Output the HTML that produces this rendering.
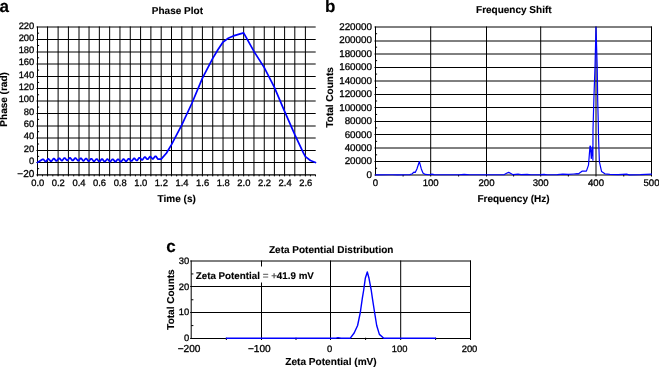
<!DOCTYPE html>
<html><head><meta charset="utf-8"><title>Figure</title>
<style>
html,body{margin:0;padding:0;background:#fff;}
body{width:659px;height:367px;overflow:hidden;}
svg{display:block;}
svg text{font-family:"Liberation Sans",sans-serif;fill:#000;stroke:#000;stroke-width:0.3px;text-rendering:geometricPrecision;}
svg text.b{font-weight:bold;stroke-width:0.12px;}
</style></head><body>
<svg width="659" height="367" viewBox="0 0 659 367">
<rect width="659" height="367" fill="#fff"/>
<g id="chartA">
<line x1="36.50" y1="27.00" x2="315.70" y2="27.00" stroke="#000" stroke-width="1.0"/>
<line x1="36.50" y1="39.50" x2="315.70" y2="39.50" stroke="#000" stroke-width="1.0"/>
<line x1="36.50" y1="52.00" x2="315.70" y2="52.00" stroke="#000" stroke-width="1.0"/>
<line x1="36.50" y1="64.00" x2="315.70" y2="64.00" stroke="#000" stroke-width="1.0"/>
<line x1="36.50" y1="76.50" x2="315.70" y2="76.50" stroke="#000" stroke-width="1.0"/>
<line x1="36.50" y1="88.50" x2="315.70" y2="88.50" stroke="#000" stroke-width="1.0"/>
<line x1="36.50" y1="101.00" x2="315.70" y2="101.00" stroke="#000" stroke-width="1.0"/>
<line x1="36.50" y1="113.50" x2="315.70" y2="113.50" stroke="#000" stroke-width="1.0"/>
<line x1="36.50" y1="126.00" x2="315.70" y2="126.00" stroke="#000" stroke-width="1.0"/>
<line x1="36.50" y1="138.00" x2="315.70" y2="138.00" stroke="#000" stroke-width="1.0"/>
<line x1="36.50" y1="150.50" x2="315.70" y2="150.50" stroke="#000" stroke-width="1.0"/>
<line x1="36.50" y1="162.50" x2="315.70" y2="162.50" stroke="#000" stroke-width="1.0"/>
<line x1="36.50" y1="174.85" x2="315.70" y2="174.85" stroke="#000" stroke-width="1.35"/>
<line x1="37.50" y1="26.50" x2="37.50" y2="175.35" stroke="#000" stroke-width="1.0"/>
<line x1="47.55" y1="26.50" x2="47.55" y2="175.35" stroke="#000" stroke-width="1.0"/>
<line x1="58.12" y1="26.50" x2="58.12" y2="175.35" stroke="#000" stroke-width="1.0"/>
<line x1="68.42" y1="26.50" x2="68.42" y2="175.35" stroke="#000" stroke-width="1.0"/>
<line x1="79.00" y1="26.50" x2="79.00" y2="175.35" stroke="#000" stroke-width="1.0"/>
<line x1="89.04" y1="26.50" x2="89.04" y2="175.35" stroke="#000" stroke-width="1.0"/>
<line x1="99.35" y1="26.50" x2="99.35" y2="175.35" stroke="#000" stroke-width="1.0"/>
<line x1="109.65" y1="26.50" x2="109.65" y2="175.35" stroke="#000" stroke-width="1.0"/>
<line x1="119.96" y1="26.50" x2="119.96" y2="175.35" stroke="#000" stroke-width="1.0"/>
<line x1="130.27" y1="26.50" x2="130.27" y2="175.35" stroke="#000" stroke-width="1.0"/>
<line x1="140.58" y1="26.50" x2="140.58" y2="175.35" stroke="#000" stroke-width="1.0"/>
<line x1="150.88" y1="26.50" x2="150.88" y2="175.35" stroke="#000" stroke-width="1.0"/>
<line x1="161.19" y1="26.50" x2="161.19" y2="175.35" stroke="#000" stroke-width="1.0"/>
<line x1="171.50" y1="26.50" x2="171.50" y2="175.35" stroke="#000" stroke-width="1.0"/>
<line x1="181.81" y1="26.50" x2="181.81" y2="175.35" stroke="#000" stroke-width="1.0"/>
<line x1="192.12" y1="26.50" x2="192.12" y2="175.35" stroke="#000" stroke-width="1.0"/>
<line x1="202.42" y1="26.50" x2="202.42" y2="175.35" stroke="#000" stroke-width="1.0"/>
<line x1="212.73" y1="26.50" x2="212.73" y2="175.35" stroke="#000" stroke-width="1.0"/>
<line x1="223.04" y1="26.50" x2="223.04" y2="175.35" stroke="#000" stroke-width="1.0"/>
<line x1="233.35" y1="26.50" x2="233.35" y2="175.35" stroke="#000" stroke-width="1.0"/>
<line x1="243.65" y1="26.50" x2="243.65" y2="175.35" stroke="#000" stroke-width="1.0"/>
<line x1="253.96" y1="26.50" x2="253.96" y2="175.35" stroke="#000" stroke-width="1.0"/>
<line x1="264.27" y1="26.50" x2="264.27" y2="175.35" stroke="#000" stroke-width="1.0"/>
<line x1="274.40" y1="26.50" x2="274.40" y2="175.35" stroke="#000" stroke-width="1.0"/>
<line x1="284.60" y1="26.50" x2="284.60" y2="175.35" stroke="#000" stroke-width="1.0"/>
<line x1="294.80" y1="26.50" x2="294.80" y2="175.35" stroke="#000" stroke-width="1.0"/>
<line x1="305.40" y1="26.50" x2="305.40" y2="175.35" stroke="#000" stroke-width="1.0"/>
<line x1="37.50" y1="174.85" x2="37.50" y2="176.35" stroke="#000" stroke-width="1.0"/>
<line x1="42.52" y1="174.85" x2="42.52" y2="176.35" stroke="#000" stroke-width="1.0"/>
<line x1="47.55" y1="174.85" x2="47.55" y2="176.35" stroke="#000" stroke-width="1.0"/>
<line x1="52.83" y1="174.85" x2="52.83" y2="176.35" stroke="#000" stroke-width="1.0"/>
<line x1="58.12" y1="174.85" x2="58.12" y2="176.35" stroke="#000" stroke-width="1.0"/>
<line x1="63.27" y1="174.85" x2="63.27" y2="176.35" stroke="#000" stroke-width="1.0"/>
<line x1="68.42" y1="174.85" x2="68.42" y2="176.35" stroke="#000" stroke-width="1.0"/>
<line x1="73.71" y1="174.85" x2="73.71" y2="176.35" stroke="#000" stroke-width="1.0"/>
<line x1="79.00" y1="174.85" x2="79.00" y2="176.35" stroke="#000" stroke-width="1.0"/>
<line x1="84.02" y1="174.85" x2="84.02" y2="176.35" stroke="#000" stroke-width="1.0"/>
<line x1="89.04" y1="174.85" x2="89.04" y2="176.35" stroke="#000" stroke-width="1.0"/>
<line x1="94.19" y1="174.85" x2="94.19" y2="176.35" stroke="#000" stroke-width="1.0"/>
<line x1="99.35" y1="174.85" x2="99.35" y2="176.35" stroke="#000" stroke-width="1.0"/>
<line x1="104.50" y1="174.85" x2="104.50" y2="176.35" stroke="#000" stroke-width="1.0"/>
<line x1="109.65" y1="174.85" x2="109.65" y2="176.35" stroke="#000" stroke-width="1.0"/>
<line x1="114.81" y1="174.85" x2="114.81" y2="176.35" stroke="#000" stroke-width="1.0"/>
<line x1="119.96" y1="174.85" x2="119.96" y2="176.35" stroke="#000" stroke-width="1.0"/>
<line x1="125.12" y1="174.85" x2="125.12" y2="176.35" stroke="#000" stroke-width="1.0"/>
<line x1="130.27" y1="174.85" x2="130.27" y2="176.35" stroke="#000" stroke-width="1.0"/>
<line x1="135.42" y1="174.85" x2="135.42" y2="176.35" stroke="#000" stroke-width="1.0"/>
<line x1="140.58" y1="174.85" x2="140.58" y2="176.35" stroke="#000" stroke-width="1.0"/>
<line x1="145.73" y1="174.85" x2="145.73" y2="176.35" stroke="#000" stroke-width="1.0"/>
<line x1="150.88" y1="174.85" x2="150.88" y2="176.35" stroke="#000" stroke-width="1.0"/>
<line x1="156.04" y1="174.85" x2="156.04" y2="176.35" stroke="#000" stroke-width="1.0"/>
<line x1="161.19" y1="174.85" x2="161.19" y2="176.35" stroke="#000" stroke-width="1.0"/>
<line x1="166.35" y1="174.85" x2="166.35" y2="176.35" stroke="#000" stroke-width="1.0"/>
<line x1="171.50" y1="174.85" x2="171.50" y2="176.35" stroke="#000" stroke-width="1.0"/>
<line x1="176.65" y1="174.85" x2="176.65" y2="176.35" stroke="#000" stroke-width="1.0"/>
<line x1="181.81" y1="174.85" x2="181.81" y2="176.35" stroke="#000" stroke-width="1.0"/>
<line x1="186.96" y1="174.85" x2="186.96" y2="176.35" stroke="#000" stroke-width="1.0"/>
<line x1="192.12" y1="174.85" x2="192.12" y2="176.35" stroke="#000" stroke-width="1.0"/>
<line x1="197.27" y1="174.85" x2="197.27" y2="176.35" stroke="#000" stroke-width="1.0"/>
<line x1="202.42" y1="174.85" x2="202.42" y2="176.35" stroke="#000" stroke-width="1.0"/>
<line x1="207.58" y1="174.85" x2="207.58" y2="176.35" stroke="#000" stroke-width="1.0"/>
<line x1="212.73" y1="174.85" x2="212.73" y2="176.35" stroke="#000" stroke-width="1.0"/>
<line x1="217.88" y1="174.85" x2="217.88" y2="176.35" stroke="#000" stroke-width="1.0"/>
<line x1="223.04" y1="174.85" x2="223.04" y2="176.35" stroke="#000" stroke-width="1.0"/>
<line x1="228.19" y1="174.85" x2="228.19" y2="176.35" stroke="#000" stroke-width="1.0"/>
<line x1="233.35" y1="174.85" x2="233.35" y2="176.35" stroke="#000" stroke-width="1.0"/>
<line x1="238.50" y1="174.85" x2="238.50" y2="176.35" stroke="#000" stroke-width="1.0"/>
<line x1="243.65" y1="174.85" x2="243.65" y2="176.35" stroke="#000" stroke-width="1.0"/>
<line x1="248.81" y1="174.85" x2="248.81" y2="176.35" stroke="#000" stroke-width="1.0"/>
<line x1="253.96" y1="174.85" x2="253.96" y2="176.35" stroke="#000" stroke-width="1.0"/>
<line x1="259.12" y1="174.85" x2="259.12" y2="176.35" stroke="#000" stroke-width="1.0"/>
<line x1="264.27" y1="174.85" x2="264.27" y2="176.35" stroke="#000" stroke-width="1.0"/>
<line x1="269.33" y1="174.85" x2="269.33" y2="176.35" stroke="#000" stroke-width="1.0"/>
<line x1="274.40" y1="174.85" x2="274.40" y2="176.35" stroke="#000" stroke-width="1.0"/>
<line x1="279.50" y1="174.85" x2="279.50" y2="176.35" stroke="#000" stroke-width="1.0"/>
<line x1="284.60" y1="174.85" x2="284.60" y2="176.35" stroke="#000" stroke-width="1.0"/>
<line x1="289.70" y1="174.85" x2="289.70" y2="176.35" stroke="#000" stroke-width="1.0"/>
<line x1="294.80" y1="174.85" x2="294.80" y2="176.35" stroke="#000" stroke-width="1.0"/>
<line x1="300.10" y1="174.85" x2="300.10" y2="176.35" stroke="#000" stroke-width="1.0"/>
<line x1="305.40" y1="174.85" x2="305.40" y2="176.35" stroke="#000" stroke-width="1.0"/>
<line x1="310.45" y1="174.85" x2="310.45" y2="176.35" stroke="#000" stroke-width="1.0"/>
<line x1="315.50" y1="174.85" x2="315.50" y2="176.35" stroke="#000" stroke-width="1.0"/>
<line x1="37.50" y1="168.66" x2="39.10" y2="168.66" stroke="#000" stroke-width="1.0"/>
<line x1="37.50" y1="156.34" x2="39.10" y2="156.34" stroke="#000" stroke-width="1.0"/>
<line x1="37.50" y1="144.02" x2="39.10" y2="144.02" stroke="#000" stroke-width="1.0"/>
<line x1="37.50" y1="131.70" x2="39.10" y2="131.70" stroke="#000" stroke-width="1.0"/>
<line x1="37.50" y1="119.39" x2="39.10" y2="119.39" stroke="#000" stroke-width="1.0"/>
<line x1="37.50" y1="107.07" x2="39.10" y2="107.07" stroke="#000" stroke-width="1.0"/>
<line x1="37.50" y1="94.75" x2="39.10" y2="94.75" stroke="#000" stroke-width="1.0"/>
<line x1="37.50" y1="82.43" x2="39.10" y2="82.43" stroke="#000" stroke-width="1.0"/>
<line x1="37.50" y1="70.11" x2="39.10" y2="70.11" stroke="#000" stroke-width="1.0"/>
<line x1="37.50" y1="57.80" x2="39.10" y2="57.80" stroke="#000" stroke-width="1.0"/>
<line x1="37.50" y1="45.48" x2="39.10" y2="45.48" stroke="#000" stroke-width="1.0"/>
<line x1="37.50" y1="33.16" x2="39.10" y2="33.16" stroke="#000" stroke-width="1.0"/>
<text transform="translate(34.30 28.50)" text-anchor="end" font-size="9.4">220</text>
<text transform="translate(34.30 40.81)" text-anchor="end" font-size="9.4">200</text>
<text transform="translate(34.30 53.12)" text-anchor="end" font-size="9.4">180</text>
<text transform="translate(34.30 65.43)" text-anchor="end" font-size="9.4">160</text>
<text transform="translate(34.30 77.74)" text-anchor="end" font-size="9.4">140</text>
<text transform="translate(34.30 90.05)" text-anchor="end" font-size="9.4">120</text>
<text transform="translate(34.30 102.36)" text-anchor="end" font-size="9.4">100</text>
<text transform="translate(34.30 114.67)" text-anchor="end" font-size="9.4">80</text>
<text transform="translate(34.30 126.98)" text-anchor="end" font-size="9.4">60</text>
<text transform="translate(34.30 139.29)" text-anchor="end" font-size="9.4">40</text>
<text transform="translate(34.30 151.60)" text-anchor="end" font-size="9.4">20</text>
<text transform="translate(34.30 163.91)" text-anchor="end" font-size="9.4">0</text>
<text transform="translate(34.30 176.62)" text-anchor="end" font-size="10.0">−20</text>
<text transform="translate(37.70 185.70)" text-anchor="middle" font-size="9.4">0.0</text>
<text transform="translate(58.32 185.70)" text-anchor="middle" font-size="9.4">0.2</text>
<text transform="translate(78.93 185.70)" text-anchor="middle" font-size="9.4">0.4</text>
<text transform="translate(99.55 185.70)" text-anchor="middle" font-size="9.4">0.6</text>
<text transform="translate(120.16 185.70)" text-anchor="middle" font-size="9.4">0.8</text>
<text transform="translate(140.78 185.70)" text-anchor="middle" font-size="9.4">1.0</text>
<text transform="translate(161.39 185.70)" text-anchor="middle" font-size="9.4">1.2</text>
<text transform="translate(182.01 185.70)" text-anchor="middle" font-size="9.4">1.4</text>
<text transform="translate(202.62 185.70)" text-anchor="middle" font-size="9.4">1.6</text>
<text transform="translate(223.24 185.70)" text-anchor="middle" font-size="9.4">1.8</text>
<text transform="translate(243.85 185.70)" text-anchor="middle" font-size="9.4">2.0</text>
<text transform="translate(264.47 185.70)" text-anchor="middle" font-size="9.4">2.2</text>
<text transform="translate(285.08 185.70)" text-anchor="middle" font-size="9.4">2.4</text>
<text transform="translate(305.70 185.70)" text-anchor="middle" font-size="9.4">2.6</text>
<text transform="translate(177.40 13.60)" text-anchor="middle" font-size="10" class="b">Phase Plot</text>
<text transform="translate(176.70 201.90)" text-anchor="middle" font-size="10" class="b">Time (s)</text>
<text transform="translate(7.40 99.40) rotate(-90)" text-anchor="middle" font-size="10" class="b">Phase (rad)</text>
<text transform="translate(-0.40 11.70)" text-anchor="start" font-size="17" class="b">a</text>
<polyline points="37.50,162.50 42.63,159.24 43.43,159.24 45.23,161.43 46.04,161.43 47.86,158.95 48.70,158.95 50.60,161.15 51.44,161.15 53.34,158.66 54.19,158.66 56.08,160.86 56.93,160.86 58.81,158.37 59.63,158.37 61.48,160.57 62.31,160.57 64.16,158.09 64.98,158.09 66.83,160.28 67.66,160.28 69.53,157.94 70.38,157.94 72.28,160.39 73.12,160.39 75.02,158.15 75.87,158.15 77.77,160.60 78.61,160.60 80.44,158.37 81.24,158.37 83.04,160.81 83.84,160.81 85.65,158.58 86.45,158.58 88.25,161.03 89.05,161.03 90.90,158.79 91.73,158.79 93.58,161.24 94.40,161.24 96.25,159.01 97.08,159.01 98.93,161.45 99.75,161.45 101.60,159.14 102.43,159.14 104.28,161.52 105.10,161.52 106.95,159.21 107.78,159.21 109.63,161.58 110.45,161.58 112.30,159.27 113.13,159.27 114.98,161.64 115.80,161.64 117.65,159.34 118.48,159.34 120.33,161.65 121.15,161.65 123.00,159.13 123.83,159.13 125.68,161.28 126.50,161.28 128.35,158.76 129.18,158.76 131.03,160.92 131.85,160.92 133.70,158.40 134.53,158.40 136.38,160.48 137.20,160.48 139.05,157.80 139.88,157.80 141.73,159.81 142.55,159.81 144.40,157.13 145.23,157.13 147.08,159.23 147.90,159.23 149.75,156.70 150.58,156.70 152.43,158.85 153.25,158.85 155.10,156.32 155.93,156.32 157.78,159.03 158.60,159.03 161.19,159.11 166.35,153.26 171.50,144.64 181.81,124.93 192.12,102.76 202.42,78.12 212.73,58.41 217.88,49.79 223.04,42.09 228.19,38.27 233.35,35.93 243.65,32.91 253.96,51.45 264.27,67.65 274.40,87.36 284.60,111.38 294.80,134.54 303.49,153.08 305.40,156.59 310.45,160.53 315.50,162.50" fill="none" stroke="#0000ff" stroke-width="1.7" stroke-linejoin="round" stroke-linecap="round"/>
</g>
<g id="chartB">
<line x1="374.50" y1="27.00" x2="652.00" y2="27.00" stroke="#000" stroke-width="1.0"/>
<line x1="374.50" y1="41.00" x2="652.00" y2="41.00" stroke="#000" stroke-width="1.0"/>
<line x1="374.50" y1="54.00" x2="652.00" y2="54.00" stroke="#000" stroke-width="1.0"/>
<line x1="374.50" y1="67.50" x2="652.00" y2="67.50" stroke="#000" stroke-width="1.0"/>
<line x1="374.50" y1="81.00" x2="652.00" y2="81.00" stroke="#000" stroke-width="1.0"/>
<line x1="374.50" y1="94.50" x2="652.00" y2="94.50" stroke="#000" stroke-width="1.0"/>
<line x1="374.50" y1="107.50" x2="652.00" y2="107.50" stroke="#000" stroke-width="1.0"/>
<line x1="374.50" y1="121.50" x2="652.00" y2="121.50" stroke="#000" stroke-width="1.0"/>
<line x1="374.50" y1="134.50" x2="652.00" y2="134.50" stroke="#000" stroke-width="1.0"/>
<line x1="374.50" y1="148.00" x2="652.00" y2="148.00" stroke="#000" stroke-width="1.0"/>
<line x1="374.50" y1="161.50" x2="652.00" y2="161.50" stroke="#000" stroke-width="1.0"/>
<line x1="374.50" y1="175.00" x2="652.00" y2="175.00" stroke="#000" stroke-width="1.0"/>
<line x1="375.50" y1="26.50" x2="375.50" y2="175.50" stroke="#000" stroke-width="1.0"/>
<line x1="430.70" y1="26.50" x2="430.70" y2="176.50" stroke="#000" stroke-width="1.0"/>
<line x1="486.50" y1="26.50" x2="486.50" y2="176.50" stroke="#000" stroke-width="1.0"/>
<line x1="540.70" y1="26.50" x2="540.70" y2="176.50" stroke="#000" stroke-width="1.0"/>
<line x1="596.00" y1="26.50" x2="596.00" y2="176.50" stroke="#000" stroke-width="1.0"/>
<line x1="651.50" y1="26.50" x2="651.50" y2="176.50" stroke="#000" stroke-width="1.0"/>
<line x1="375.50" y1="168.27" x2="377.10" y2="168.27" stroke="#000" stroke-width="1.0"/>
<line x1="375.50" y1="154.82" x2="377.10" y2="154.82" stroke="#000" stroke-width="1.0"/>
<line x1="375.50" y1="141.36" x2="377.10" y2="141.36" stroke="#000" stroke-width="1.0"/>
<line x1="375.50" y1="127.91" x2="377.10" y2="127.91" stroke="#000" stroke-width="1.0"/>
<line x1="375.50" y1="114.45" x2="377.10" y2="114.45" stroke="#000" stroke-width="1.0"/>
<line x1="375.50" y1="101.00" x2="377.10" y2="101.00" stroke="#000" stroke-width="1.0"/>
<line x1="375.50" y1="87.55" x2="377.10" y2="87.55" stroke="#000" stroke-width="1.0"/>
<line x1="375.50" y1="74.09" x2="377.10" y2="74.09" stroke="#000" stroke-width="1.0"/>
<line x1="375.50" y1="60.64" x2="377.10" y2="60.64" stroke="#000" stroke-width="1.0"/>
<line x1="375.50" y1="47.18" x2="377.10" y2="47.18" stroke="#000" stroke-width="1.0"/>
<line x1="375.50" y1="33.73" x2="377.10" y2="33.73" stroke="#000" stroke-width="1.0"/>
<line x1="403.10" y1="175.00" x2="403.10" y2="176.50" stroke="#000" stroke-width="1.0"/>
<line x1="458.60" y1="175.00" x2="458.60" y2="176.50" stroke="#000" stroke-width="1.0"/>
<line x1="513.60" y1="175.00" x2="513.60" y2="176.50" stroke="#000" stroke-width="1.0"/>
<line x1="568.35" y1="175.00" x2="568.35" y2="176.50" stroke="#000" stroke-width="1.0"/>
<line x1="623.75" y1="175.00" x2="623.75" y2="176.50" stroke="#000" stroke-width="1.0"/>
<text transform="translate(371.90 29.90)" text-anchor="end" font-size="9.8">220000</text>
<text transform="translate(371.90 43.35)" text-anchor="end" font-size="9.8">200000</text>
<text transform="translate(371.90 56.80)" text-anchor="end" font-size="9.8">180000</text>
<text transform="translate(371.90 70.25)" text-anchor="end" font-size="9.8">160000</text>
<text transform="translate(371.90 83.70)" text-anchor="end" font-size="9.8">140000</text>
<text transform="translate(371.90 97.15)" text-anchor="end" font-size="9.8">120000</text>
<text transform="translate(371.90 110.60)" text-anchor="end" font-size="9.8">100000</text>
<text transform="translate(371.90 124.05)" text-anchor="end" font-size="9.8">80000</text>
<text transform="translate(371.90 137.50)" text-anchor="end" font-size="9.8">60000</text>
<text transform="translate(371.90 150.95)" text-anchor="end" font-size="9.8">40000</text>
<text transform="translate(371.90 164.40)" text-anchor="end" font-size="9.8">20000</text>
<text transform="translate(371.90 177.85)" text-anchor="end" font-size="9.8">0</text>
<text transform="translate(375.50 185.60)" text-anchor="middle" font-size="9.6">0</text>
<text transform="translate(430.70 185.60)" text-anchor="middle" font-size="9.6">100</text>
<text transform="translate(486.50 185.60)" text-anchor="middle" font-size="9.6">200</text>
<text transform="translate(540.70 185.60)" text-anchor="middle" font-size="9.6">300</text>
<text transform="translate(596.00 185.60)" text-anchor="middle" font-size="9.6">400</text>
<text transform="translate(651.50 185.60)" text-anchor="middle" font-size="9.6">500</text>
<text transform="translate(513.80 13.40)" text-anchor="middle" font-size="10" class="b">Frequency Shift</text>
<text transform="translate(513.50 201.90)" text-anchor="middle" font-size="10" class="b">Frequency (Hz)</text>
<text transform="translate(332.60 97.40) rotate(-90)" text-anchor="middle" font-size="10" class="b">Total Counts</text>
<text transform="translate(324.90 11.70)" text-anchor="start" font-size="17" class="b">b</text>
<polyline points="375.50,174.80 392.06,174.76 397.58,174.80 405.86,174.73 409.72,174.66 411.93,173.99 413.86,172.11 415.24,172.44 416.90,168.95 419.38,161.55 421.32,168.95 422.97,172.98 425.18,174.39 429.60,174.73 431.82,174.13 434.05,174.66 458.60,174.73 464.18,174.39 469.76,174.73 501.68,174.73 504.39,174.53 506.55,173.32 508.72,172.38 510.89,173.52 513.06,174.66 517.94,174.19 521.19,174.66 527.15,174.39 530.94,174.73 540.70,174.66 544.02,174.33 547.34,174.73 557.29,174.66 562.82,174.19 568.35,174.46 573.88,173.99 577.20,173.65 578.20,174.00 582.00,171.20 586.40,171.10 588.50,165.10 590.00,146.00 590.40,146.00 591.30,158.50 592.20,147.00 592.50,147.00 592.90,160.20 593.00,130.00 593.85,100.00 595.00,67.00 596.00,27.20 597.20,67.00 597.70,100.00 598.20,120.00 598.60,140.00 599.40,161.80 601.60,171.60 604.90,173.80 609.88,174.39 618.20,174.66 626.52,174.19 629.30,174.80 640.40,174.66 645.95,174.33 651.50,174.06" fill="none" stroke="#0000ff" stroke-width="1.2" stroke-linejoin="round" stroke-linecap="round"/>
</g>
<g id="chartC">
<line x1="190.20" y1="261.00" x2="471.00" y2="261.00" stroke="#000" stroke-width="1.0"/>
<line x1="190.20" y1="286.50" x2="471.00" y2="286.50" stroke="#000" stroke-width="1.0"/>
<line x1="190.20" y1="312.50" x2="471.00" y2="312.50" stroke="#000" stroke-width="1.0"/>
<line x1="190.20" y1="338.50" x2="471.00" y2="338.50" stroke="#000" stroke-width="1.0"/>
<line x1="191.20" y1="260.50" x2="191.20" y2="339.00" stroke="#000" stroke-width="1.0"/>
<line x1="261.50" y1="260.50" x2="261.50" y2="340.00" stroke="#000" stroke-width="1.0"/>
<line x1="330.50" y1="260.50" x2="330.50" y2="340.00" stroke="#000" stroke-width="1.0"/>
<line x1="400.70" y1="260.50" x2="400.70" y2="340.00" stroke="#000" stroke-width="1.0"/>
<line x1="470.50" y1="260.50" x2="470.50" y2="340.00" stroke="#000" stroke-width="1.0"/>
<line x1="191.20" y1="325.58" x2="193.40" y2="325.58" stroke="#000" stroke-width="1.0"/>
<line x1="191.20" y1="299.75" x2="193.40" y2="299.75" stroke="#000" stroke-width="1.0"/>
<line x1="191.20" y1="273.93" x2="193.40" y2="273.93" stroke="#000" stroke-width="1.0"/>
<line x1="226.35" y1="337.70" x2="226.35" y2="340.00" stroke="#000" stroke-width="1.0"/>
<line x1="296.00" y1="337.70" x2="296.00" y2="340.00" stroke="#000" stroke-width="1.0"/>
<line x1="365.60" y1="337.70" x2="365.60" y2="340.00" stroke="#000" stroke-width="1.0"/>
<line x1="435.60" y1="337.70" x2="435.60" y2="340.00" stroke="#000" stroke-width="1.0"/>
<text transform="translate(189.10 263.80)" text-anchor="end" font-size="9.4">30</text>
<text transform="translate(189.10 289.55)" text-anchor="end" font-size="9.4">20</text>
<text transform="translate(189.10 315.30)" text-anchor="end" font-size="9.4">10</text>
<text transform="translate(189.10 341.05)" text-anchor="end" font-size="9.4">0</text>
<text transform="translate(189.00 351.90)" text-anchor="middle" font-size="10.1">−200</text>
<text transform="translate(259.30 351.90)" text-anchor="middle" font-size="10.1">−100</text>
<text transform="translate(329.50 352.40)" text-anchor="middle" font-size="9.4">0</text>
<text transform="translate(399.70 352.40)" text-anchor="middle" font-size="9.4">100</text>
<text transform="translate(469.50 352.40)" text-anchor="middle" font-size="9.4">200</text>
<text transform="translate(331.20 253.20)" text-anchor="middle" font-size="10" class="b">Zeta Potential Distribution</text>
<text transform="translate(331.00 365.30)" text-anchor="middle" font-size="10.1" class="b">Zeta Potential (mV)</text>
<text transform="translate(174.10 299.50) rotate(-90)" text-anchor="middle" font-size="10" class="b">Total Counts</text>
<text transform="translate(166.30 251.60)" text-anchor="start" font-size="17" class="b">c</text>
<rect x="194" y="266.5" width="121" height="16" fill="#fff"/>
<text transform="translate(195.70 278.70)" text-anchor="start" font-size="9.8" class="b">Zeta Potential <tspan fill="#777" stroke="#777">=</tspan> <tspan fill="#555" stroke="#555">+</tspan>41.9 mV</text>
<polyline points="226.35,338.20 336.00,338.20 338.00,337.60 341.00,338.20 350.30,338.20 354.15,333.00 357.60,325.50 360.30,312.50 362.35,298.20 363.70,290.00 365.30,278.30 367.30,272.00 369.00,278.30 371.20,290.00 372.60,299.60 374.60,312.50 376.70,325.50 379.40,334.40 383.80,338.20 435.60,338.20" fill="none" stroke="#0000ff" stroke-width="1.4" stroke-linejoin="round" stroke-linecap="round"/>
</g>
</svg>
</body></html>
